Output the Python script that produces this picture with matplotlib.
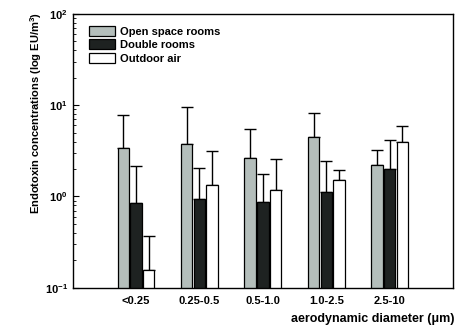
import matplotlib
matplotlib.use("Agg")
import matplotlib.pyplot as plt
import numpy as np

plt.rcParams['font.family'] = ['Liberation Sans', 'DejaVu Sans']
plt.rcParams['mathtext.fontset'] = 'custom'
plt.rcParams['mathtext.rm'] = 'Liberation Sans:bold'
plt.rcParams['mathtext.bf'] = 'Liberation Sans:bold'
plt.rcParams['mathtext.default'] = 'bf'

categories = ['<0.25', '0.25-0.5', '0.5-1.0', '1.0-2.5', '2.5-10']
series_names = ['Open space rooms', 'Double rooms', 'Outdoor air']
open_space = [3.4, 3.8, 2.66, 4.5, 2.2]
open_space_err = [7.8, 9.5, 5.45, 8.2, 3.25]
double_rooms = [0.84, 0.93, 0.87, 1.11, 2.0]
double_rooms_err = [2.17, 2.07, 1.75, 2.47, 4.2]
outdoor = [0.155, 1.33, 1.18, 1.51, 3.95]
outdoor_err = [0.37, 3.12, 2.57, 1.96, 5.85]

colors = ['#b4bebb', '#1e2221', '#ffffff']

fig = plt.figure(figsize=(4.74, 3.33), dpi=100)
ax = fig.add_axes([0.153, 0.136, 0.803, 0.822])

x = np.arange(1, len(categories) + 1)
offsets = [-0.2, 0.0, 0.2]
width = 0.18
vals = [open_space, double_rooms, outdoor]
errs = [open_space_err, double_rooms_err, outdoor_err]
for i in range(3):
    v = np.array(vals[i])
    e = np.array(errs[i])
    ax.bar(x + offsets[i], v, width=width, color=colors[i], edgecolor='black',
           linewidth=0.9, label=series_names[i], zorder=2)
    ax.errorbar(x + offsets[i], v, yerr=[np.zeros_like(v), e - v], fmt='none',
                ecolor='black', elinewidth=1.0, capsize=4, capthick=1.0, zorder=1)

ax.set_yscale('log')
ax.set_ylim(0.1, 100)
ax.set_xlim(0, 6)
ax.set_xticks(x)
ax.set_xticklabels(categories, fontsize=8, fontweight='bold')
ax.set_yticks([0.1, 1, 10, 100])
ax.set_yticklabels([r'$10^{-1}$', r'$10^{0}$', r'$10^{1}$', r'$10^{2}$'], fontsize=8)
ax.tick_params(axis='both', which='both', direction='in')
ax.tick_params(axis='y', which='major', length=4, width=0.8)
ax.tick_params(axis='y', which='minor', length=2, width=0.6)
ax.tick_params(axis='x', which='major', length=3, width=0.8, pad=6)
for s in ax.spines.values():
    s.set_linewidth(1.0)

fig.text(0.076, 0.66, r'Endotoxin concentrations (log EU/m$^{3}$)', rotation=90,
         ha='center', va='center', fontsize=8, fontweight='bold')
fig.text(0.958, 0.025, 'aerodynamic diameter (μm)', ha='right', va='bottom',
         fontsize=9, fontweight='bold')

leg = ax.legend(loc='upper left', bbox_to_anchor=(0.018, 0.993), frameon=False,
                prop={'weight': 'bold', 'size': 8},
                handlelength=2.3, handleheight=1.0, handletextpad=0.5, labelspacing=0.25)

fig.savefig('out.png', dpi=100)
